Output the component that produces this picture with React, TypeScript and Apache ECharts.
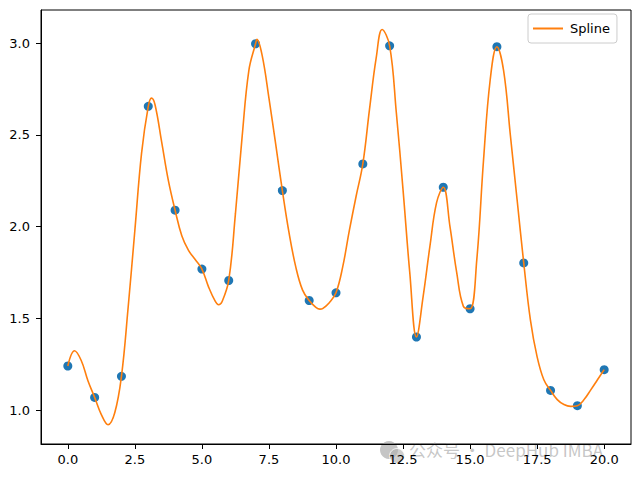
import React, { useEffect, useRef } from "react";
import * as echarts from "echarts";

// Observed data points
const pointsX = [0, 1, 2, 3, 4, 5, 6, 7, 8, 9, 10, 11, 12, 13, 14, 15, 16, 17, 18, 19, 20];
const pointsY = [1.24, 1.069, 1.184, 2.655, 2.089, 1.768, 1.706, 2.996, 2.196, 1.597, 1.639, 2.341, 2.985, 1.398, 2.214, 1.552, 2.98, 1.802, 1.107, 1.024, 1.22];

// Spline curve samples
const splineX = [
  0, 0.25, 0.5, 0.75, 1, 1.25, 1.5, 1.75, 2, 2.25, 2.5, 2.75, 3, 3.12, 3.25, 3.5, 3.75,
  4, 4.25, 4.5, 4.75, 5, 5.25, 5.5, 5.62, 5.75, 6, 6.25, 6.5, 6.75, 7, 7.05, 7.25, 7.5, 7.75,
  8, 8.25, 8.5, 8.75, 9, 9.25, 9.4, 9.5, 9.75, 10, 10.25, 10.5, 10.75, 11, 11.25, 11.5, 11.72,
  12, 12.25, 12.5, 12.75, 13, 13.25, 13.5, 13.75, 14, 14.25, 14.5, 14.75, 15, 15.25, 15.5, 15.75,
  16, 16.25, 16.5, 16.75, 17, 17.25, 17.5, 17.75, 18, 18.25, 18.5, 18.75, 19, 19.25, 19.5, 19.75, 20,
];
const splineY = [
  1.24, 1.323, 1.27, 1.16, 1.069, 0.975, 0.92, 0.985, 1.184, 1.56, 1.98, 2.4, 2.655, 2.7, 2.665, 2.46, 2.25,
  2.089, 1.95, 1.87, 1.82, 1.768, 1.67, 1.592, 1.574, 1.59, 1.706, 2.07, 2.49, 2.85, 2.996, 3.02, 2.93, 2.7, 2.45,
  2.196, 1.965, 1.78, 1.655, 1.597, 1.56, 1.55, 1.553, 1.585, 1.639, 1.78, 1.98, 2.165, 2.341, 2.64, 2.92, 3.074,
  2.985, 2.62, 2.2, 1.75, 1.398, 1.62, 1.89, 2.13, 2.214, 2.0, 1.75, 1.565, 1.552, 1.82, 2.36, 2.8,
  2.98, 2.85, 2.5, 2.15, 1.802, 1.49, 1.29, 1.165, 1.107, 1.057, 1.03, 1.02, 1.024, 1.057, 1.11, 1.165, 1.22,
];

const xTicks = [0, 2.5, 5, 7.5, 10, 12.5, 15, 17.5, 20];
const yTicks = [1.0, 1.5, 2.0, 2.5, 3.0];

const FONT = "DejaVu Sans";

export default function App() {
  const ref = useRef<HTMLDivElement>(null);
  useEffect(() => {
    if (!ref.current) return;
    const chart = echarts.init(ref.current, null, { renderer: "svg" });
    chart.setOption({
      animation: false,
      backgroundColor: "#ffffff",
      grid: {
        left: 41,
        top: 10,
        right: 9,
        bottom: 34,
        show: true,
        borderColor: "#000000",
        borderWidth: 1,
        backgroundColor: "transparent",
      },
      legend: {
        data: [{ name: "Spline", icon: "rect" }],
        left: 528,
        top: 14,
        padding: [8, 7, 8, 5],
        itemWidth: 30,
        itemHeight: 2,
        backgroundColor: "#ffffff",
        borderColor: "#cccccc",
        borderWidth: 1,
        borderRadius: 3,
        textStyle: { fontFamily: FONT, fontSize: 13, color: "#000000", padding: [0, 0, 0, 2] },
      },
      xAxis: {
        type: "value",
        min: -1,
        max: 21,
        position: "bottom",
        splitLine: { show: false },
        axisLine: { show: true, onZero: false, lineStyle: { color: "#000000", width: 1 } },
        axisTick: { show: true, length: 5, customValues: xTicks, lineStyle: { color: "#000000", width: 1 } },
        axisLabel: {
          customValues: xTicks,
          margin: 9,
          fontFamily: FONT,
          fontSize: 13,
          color: "#000000",
          formatter: (v: number) => v.toFixed(1),
        },
      },
      yAxis: {
        type: "value",
        min: 0.815,
        max: 3.18,
        position: "left",
        splitLine: { show: false },
        axisLine: { show: true, onZero: false, lineStyle: { color: "#000000", width: 1 } },
        axisTick: { show: true, inside: false, length: 5, customValues: yTicks, lineStyle: { color: "#000000", width: 1 } },
        axisLabel: {
          customValues: yTicks,
          margin: 11,
          fontFamily: FONT,
          fontSize: 13,
          color: "#000000",
          formatter: (v: number) => v.toFixed(1),
        },
      },
      series: [
        {
          type: "scatter",
          name: "points",
          data: pointsX.map((x, i) => [x, pointsY[i]]),
          symbolSize: 9,
          itemStyle: { color: "#1f77b4", opacity: 1 },
          z: 2,
        },
        {
          type: "line",
          name: "Spline",
          data: splineX.map((x, i) => [x, splineY[i]]),
          smooth: 0.4,
          showSymbol: false,
          lineStyle: { color: "#ff7f0e", width: 1.6 },
          itemStyle: { color: "#ff7f0e" },
          z: 3,
        },
      ],
      graphic: [
        {
          type: "group",
          left: 380,
          top: 441,
          silent: true,
          children: [
            { type: "circle", shape: { cx: 9, cy: 9, r: 9 }, style: { fill: "rgba(150,150,150,0.55)" } },
            { type: "circle", shape: { cx: 17, cy: 15, r: 7.5 }, style: { fill: "rgba(175,175,175,0.6)", stroke: "rgba(255,255,255,0.8)", lineWidth: 1 } },
          ],
        },
        {
          type: "text",
          left: 409,
          top: 441,
          silent: true,
          style: {
            text: "公众号 · DeepHub IMBA",
            fontFamily: "Noto Sans CJK SC",
            fontSize: 17,
            fill: "rgba(150,150,150,0.55)",
          },
        },
      ],
    });
    return () => chart.dispose();
  }, []);
  return (
    <div
      ref={ref}
      style={{ position: "absolute", left: 0, top: 0, width: 640, height: 478 }}
    />
  );
}
